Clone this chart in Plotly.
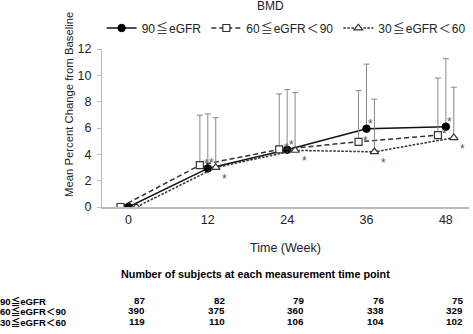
import plotly.graph_objects as go

weeks = [0, 12, 24, 36, 48]
series_names = ["90≦eGFR", "60≦eGFR＜90", "30≦eGFR＜60"]

mean_90 = [0.0, 2.93, 4.35, 5.95, 6.1]
mean_60 = [0.0, 3.18, 4.37, 4.95, 5.46]
mean_30 = [0.0, 3.0, 4.3, 4.19, 5.26]

sd_90 = [0.0, 4.14, 4.57, 4.9, 5.16]
sd_60 = [0.0, 3.79, 4.22, 3.89, 4.33]
sd_30 = [0.0, 3.78, 4.39, 4.0, 3.84]

# significance flags (asterisks) for each time point
sig_90 = [False, True, True, True, True]
sig_60 = [False, True, True, True, True]
sig_30 = [False, True, True, True, True]

n_90 = [87, 82, 79, 76, 75]
n_60 = [390, 375, 360, 338, 329]
n_30 = [119, 110, 106, 104, 102]

FONT = "Liberation Sans, Arial, Noto Sans CJK JP, sans-serif"


def spaced(s):
    for ch in ["≦", "＜"]:
        s = s.replace(ch, "\u200a" + ch + "\u200a")
    return s


offsets = [0.0, -1.2, 1.2]
means = [mean_90, mean_60, mean_30]
sds = [sd_90, sd_60, sd_30]
sigs = [sig_90, sig_60, sig_30]
counts = [n_90, n_60, n_30]
line_styles = [
    dict(color="#111111", width=1.5, dash="solid"),
    dict(color="#333333", width=1.5, dash="5px,3px"),
    dict(color="#333333", width=1.5, dash="2.5px,1.5px"),
]
markers = [
    dict(symbol="circle", size=7.5, color="#000000", line=dict(color="#000000", width=1)),
    dict(symbol="square", size=7, color="#ffffff", line=dict(color="#333333", width=1.2)),
    dict(symbol="triangle-up", size=7.5, color="#ffffff", line=dict(color="#333333", width=1.2)),
]
star_shift = [(4, 5), (7, 1), (9, -11)]

fig = go.Figure()
for i in range(3):
    xs = [w + offsets[i] for w in weeks]
    fig.add_trace(go.Scatter(
        x=xs, y=means[i], name=spaced(series_names[i]), mode="lines+markers",
        line=line_styles[i], marker=markers[i],
        error_y=dict(type="data", array=sds[i], arrayminus=[0] * 5, symmetric=False,
                     color="#888888", thickness=1, width=3),
    ))
    for j, w in enumerate(weeks):
        if sigs[i][j]:
            fig.add_annotation(x=xs[j], y=means[i][j], text="*", showarrow=False,
                               xshift=star_shift[i][0], yshift=star_shift[i][1],
                               font=dict(family=FONT, size=12, color="#555555"))

# Table of counts
fig.add_annotation(xref="paper", yref="paper", x=(255 - 102) / 367, y=-(282 - 207) / 158,
                   text="<b>Number of subjects at each measurement time point</b>",
                   showarrow=False, font=dict(family=FONT, size=10.8, color="#000000"))
row_y = [307.5, 318, 329]
for i in range(3):
    yp = -(row_y[i] - 207) / 158
    fig.add_annotation(xref="paper", yref="paper", x=-104 / 367, y=yp, xanchor="left",
                       yshift=-1, text="<b>" + series_names[i] + "</b>", showarrow=False,
                       font=dict(family=FONT, size=9.6, color="#000000"))
    for j, w in enumerate(weeks):
        fig.add_annotation(xref="x", yref="paper", x=w, y=yp, xanchor="right", xshift=19,
                           text="<b>" + str(counts[i][j]) + "</b>", showarrow=False,
                           font=dict(family=FONT, size=9.8, color="#000000"))

# y axis title
fig.add_annotation(xref="paper", yref="paper", x=-(102 - 61) / 367, y=(207 - 105) / 158,
                   text="Mean Percent Change from Baseline", textangle=-90, showarrow=False,
                   font=dict(family=FONT, size=11.3, color="#222222"))

# chart title
fig.add_annotation(xref="paper", yref="paper", x=(270 - 102) / 367, y=1 + (49 - 6) / 158,
                   yanchor="middle", text="BMD", showarrow=False,
                   font=dict(family=FONT, size=12, color="#222222"))

fig.update_layout(
    width=473, height=334,
    margin=dict(l=102, r=4, t=49, b=127, autoexpand=False),
    paper_bgcolor="white", plot_bgcolor="white",
    font=dict(family=FONT, size=12, color="#222222"),
    showlegend=True,
    legend=dict(orientation="h", x=-0.001, xanchor="left", y=1 + (49 - 28) / 158, yanchor="middle",
                font=dict(family=FONT, size=12, color="#222222"), itemwidth=30,
                tracegroupgap=0, bgcolor="rgba(0,0,0,0)"),
    xaxis=dict(range=[-4, 51.5], tickvals=weeks, ticktext=[str(w) for w in weeks],
               showgrid=False, zeroline=False, showline=True, linecolor="#bbbbbb", linewidth=1.5,
               ticks="", tickfont=dict(size=12.5, color="#222222"),
               title=dict(text="Time (Week)", font=dict(size=12.5, color="#222222"), standoff=17)),
    yaxis=dict(range=[0, 12], tickvals=[0, 2, 4, 6, 8, 10, 12], showgrid=False, zeroline=False,
               showline=True, linecolor="#bbbbbb", linewidth=1, ticks="outside", ticklen=4,
               tickcolor="#bbbbbb", tickfont=dict(size=12.5, color="#222222"),
               ticklabelstandoff=3),
)

fig.write_html("out.html", config={"displayModeBar": False},
               post_script="document.body.style.margin='0';document.body.style.padding='0';")
